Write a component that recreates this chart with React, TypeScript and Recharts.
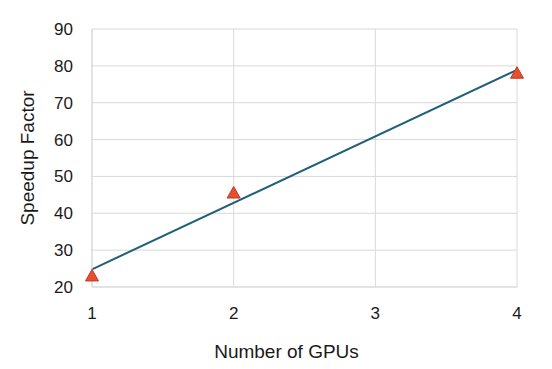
import { ComposedChart, Scatter, Line, XAxis, YAxis, CartesianGrid } from "recharts";

const gpuCounts = [1, 2, 4];
const speedups = [23, 45.5, 78];
// linear trendline, endpoints
const trendX = [1, 4];
const trendY = [24.8, 78.9];

const xTicks = [1, 2, 3, 4];
const yTicks = [20, 30, 40, 50, 60, 70, 80, 90];

const points = gpuCounts.map((x, i) => ({ x, y: speedups[i] }));
const trend = trendX.map((x, i) => ({ x, y: trendY[i] }));

const FONT = "'Liberation Sans', Arial, sans-serif";
const GRID = "#d9d9d9";
const INK = "#1a1a1a";

function Triangle(props: any) {
  const { cx, cy } = props;
  if (cx == null || cy == null) return null;
  const pts = `${cx},${cy - 6.5} ${cx + 6.5},${cy + 5} ${cx - 6.5},${cy + 5}`;
  return <polygon points={pts} fill="#e8502a" stroke="#c0392b" strokeWidth={1} />;
}

export default function App() {
  return (
    <div style={{ position: "absolute", left: 0, top: 0, background: "#fff" }}>
      <ComposedChart
        width={552}
        height={369}
        margin={{ top: 29, right: 35, bottom: 0, left: 0 }}
        style={{ fontFamily: FONT }}
      >
        <CartesianGrid stroke={GRID} strokeWidth={1} />
        <XAxis
          type="number"
          dataKey="x"
          domain={[1, 4]}
          ticks={xTicks}
          height={82}
          axisLine={{ stroke: GRID }}
          tickLine={false}
          tickSize={0}
          tickMargin={20}
          tick={{ fontSize: 17, fill: INK, fontFamily: FONT }}
          label={{
            value: "Number of GPUs",
            position: "insideBottom",
            offset: 11,
            dx: -18,
            style: { fontSize: 19, fill: INK, fontFamily: FONT },
          }}
        />
        <YAxis
          type="number"
          dataKey="y"
          domain={[20, 90]}
          ticks={yTicks}
          width={92}
          axisLine={{ stroke: GRID }}
          tickLine={false}
          tickSize={0}
          tickMargin={19}
          tick={{ fontSize: 17, fill: INK, fontFamily: FONT }}
          label={{
            value: "Speedup Factor",
            angle: -90,
            position: "insideLeft",
            offset: 27,
            style: { fontSize: 19, fill: INK, fontFamily: FONT, textAnchor: "middle" },
          }}
        />
        <Line
          data={trend}
          dataKey="y"
          type="linear"
          stroke="#1f5f7a"
          strokeWidth={2}
          dot={false}
          activeDot={false}
          isAnimationActive={false}
        />
        <Scatter data={points} dataKey="y" shape={Triangle} isAnimationActive={false} />
      </ComposedChart>
    </div>
  );
}
